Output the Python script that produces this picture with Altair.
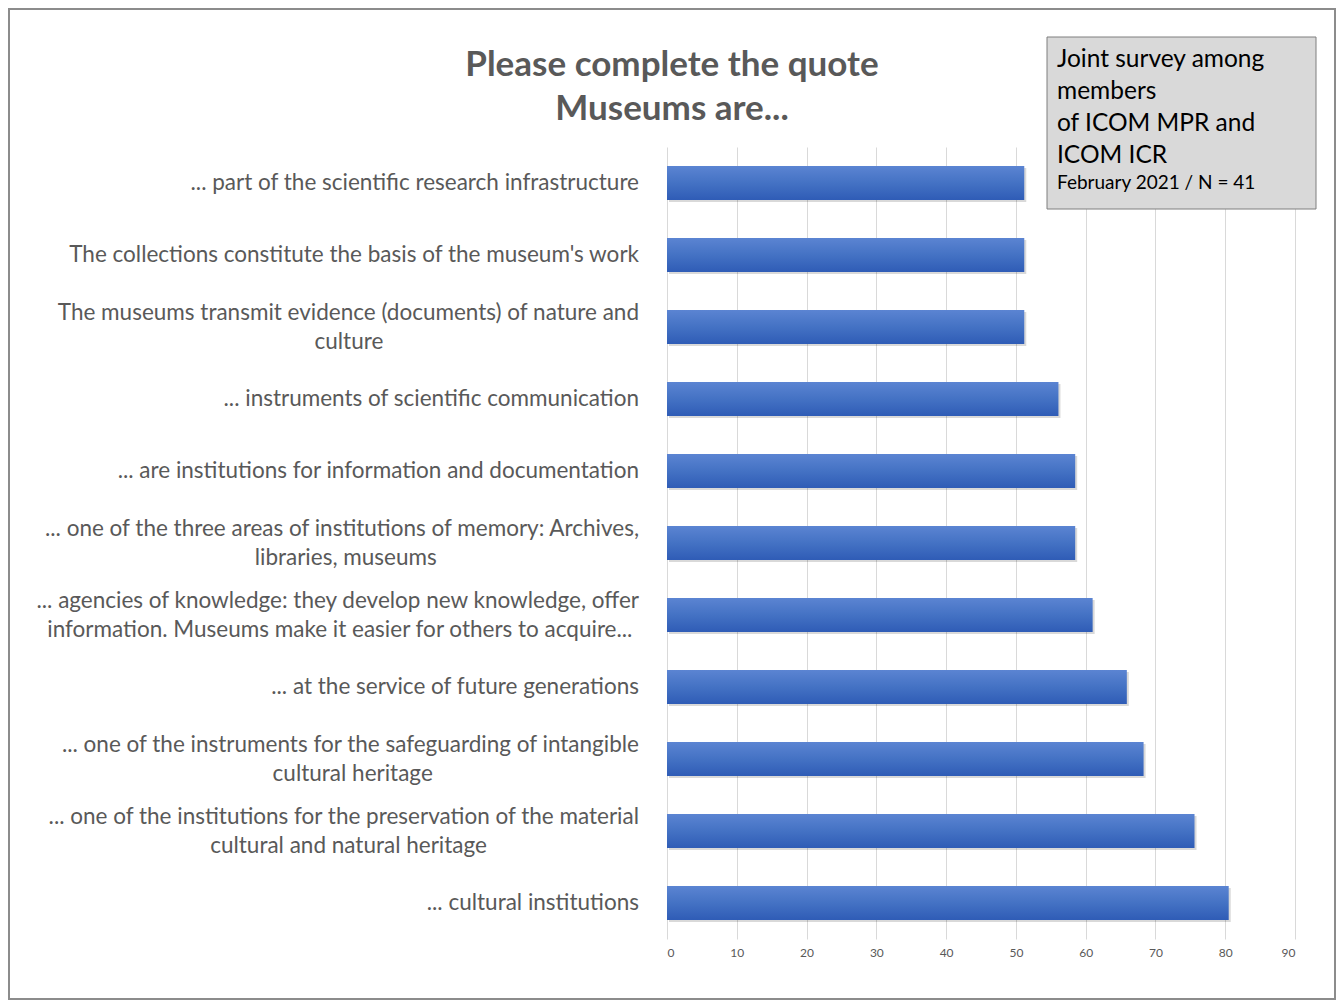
import altair as alt
import pandas as pd

# ---------------- data ----------------
labels = [
    "... part of the scientific research infrastructure",
    "The collections constitute the basis of the museum's work",
    "The museums transmit evidence (documents) of nature and\nculture",
    "... instruments of scientific communication",
    "... are institutions for information and documentation",
    "... one of the three areas of institutions of memory: Archives,\nlibraries, museums",
    "... agencies of knowledge: they develop new knowledge, offer\ninformation. Museums make it easier for others to acquire...",
    "... at the service of future generations",
    "... one of the instruments for the safeguarding of intangible\ncultural heritage",
    "... one of the institutions for the preservation of the material\ncultural and natural heritage",
    "... cultural institutions",
]
values = [51.2, 51.2, 51.2, 56.1, 58.5, 58.5, 61.0, 65.9, 68.3, 75.6, 80.5]
ticks = [0, 10, 20, 30, 40, 50, 60, 70, 80, 90]
title_lines = ["Please complete the quote", "Museums are..."]
note_lines = ["Joint survey among", "members", "of ICOM MPR and", "ICOM ICR"]
note_small = "February 2021 / N = 41"

# ---------------- layout ----------------
W, H = 628, 792
PAD_L, PAD_T = 659, 139
PAD_R = 1328 - PAD_L - W
PAD_B = 992 - PAD_T - H
FONT = "Lato"
LBL = 22.5
GREY = "#595959"
XMAX = 90
PX = W / XMAX
LABEL_GAP = 28
LINE_H = 29

# rough Lato advance widths (em)
CW = {" ": 0.26, ".": 0.23, ",": 0.23, ":": 0.23, "'": 0.2, "(": 0.3, ")": 0.3}
for ch in "abdeghnopqu":
    CW[ch] = 0.54
CW.update({"a": 0.49, "c": 0.46, "e": 0.51, "f": 0.31, "i": 0.23, "j": 0.23,
           "k": 0.48, "l": 0.23, "m": 0.81, "r": 0.35, "s": 0.41, "t": 0.33,
           "v": 0.49, "w": 0.74, "x": 0.47, "y": 0.49, "z": 0.44})


def est_width(s, size):
    return sum(CW.get(ch, 0.64) for ch in s) * size * 1.02


single_rows, first_rows, second_rows = [], [], []
for lab in labels:
    parts = lab.split("\n")
    if len(parts) == 1:
        single_rows.append({"cat": lab, "t": parts[0], "xp": -LABEL_GAP / PX})
    else:
        first_rows.append({"cat": lab, "t": parts[0], "xp": -LABEL_GAP / PX})
        c = -(LABEL_GAP + est_width(parts[0], LBL) / 2) / PX
        second_rows.append({"cat": lab, "t": parts[1], "xp": c})

df = pd.DataFrame({"cat": labels, "value": values})

xscale = alt.Scale(domain=[0, XMAX], nice=False, zero=True)
yscale = alt.Scale(paddingInner=0.53, paddingOuter=0.265)
ybase = alt.Y("cat:N", sort=labels, scale=yscale, axis=None)

xaxis = alt.Axis(values=ticks, grid=True, gridColor="#d9d9d9", gridWidth=1,
                 domain=False, ticks=False, labelFont=FONT, labelFontSize=12,
                 labelColor=GREY, labelPadding=8, title=None)

grad = alt.Gradient(
    gradient="linear",
    stops=[alt.GradientStop(color="#5b84d2", offset=0),
           alt.GradientStop(color="#4472c4", offset=0.5),
           alt.GradientStop(color="#2f5cb6", offset=1)],
    x1=0, x2=0, y1=0, y2=1,
)

shadow = alt.Chart(df).mark_bar(color="#000000", opacity=0.15, xOffset=2, x2Offset=2,
                                yOffset=2).encode(
    x=alt.X("value:Q", scale=xscale, axis=xaxis), y=ybase)
bars = alt.Chart(df).mark_bar(color=grad).encode(
    x=alt.X("value:Q", scale=xscale, axis=xaxis), y=ybase)


def label_layer(rows, align, dy):
    return alt.Chart(pd.DataFrame(rows)).mark_text(
        align=align, baseline="middle", font=FONT, fontSize=LBL, color=GREY, dy=dy
    ).encode(
        x=alt.X("xp:Q", scale=xscale, axis=xaxis),
        y=ybase,
        text="t:N",
    )


lab_single = label_layer(single_rows, "right", 0)
lab_first = label_layer(first_rows, "right", -LINE_H / 2)
lab_second = label_layer(second_rows, "center", LINE_H / 2)

# title
title = alt.Chart(pd.DataFrame({"t": ["\n".join(title_lines)]})).mark_text(
    align="center", baseline="alphabetic", font=FONT, fontSize=35, fontWeight="bold",
    color=GREY, lineBreak="\n", lineHeight=44,
).encode(text="t:N", x=alt.value(5), y=alt.value(-71))

# note box
box = alt.Chart(pd.DataFrame({"a": [0]})).mark_rect(
    fill="#d9d9d9", stroke="#7f7f7f", strokeWidth=1
).encode(x=alt.value(380), x2=alt.value(649), y=alt.value(-110), y2=alt.value(62))

note = alt.Chart(pd.DataFrame({"t": ["\n".join(note_lines)]})).mark_text(
    align="left", baseline="alphabetic", font=FONT, fontSize=24.5, color="#000000",
    lineBreak="\n", lineHeight=32,
).encode(text="t:N", x=alt.value(390), y=alt.value(-80))

note2 = alt.Chart(pd.DataFrame({"t": [note_small]})).mark_text(
    align="left", baseline="alphabetic", font=FONT, fontSize=19, color="#000000",
).encode(text="t:N", x=alt.value(390), y=alt.value(42))

frame = alt.Chart(pd.DataFrame({"a": [0]})).mark_rect(
    fillOpacity=0, stroke="#8c8c8c", strokeWidth=2
).encode(x=alt.value(-PAD_L + 1), x2=alt.value(W + PAD_R - 1),
         y=alt.value(-PAD_T + 1), y2=alt.value(H + PAD_B - 1))

chart = alt.layer(
    shadow, bars, lab_single, lab_first, lab_second, title, box, note, note2, frame
).properties(
    width=W, height=H,
    padding={"left": PAD_L, "top": PAD_T, "right": PAD_R, "bottom": PAD_B},
    autosize=alt.AutoSizeParams(type="none"),
    background="white",
).configure_view(stroke="transparent")

chart.save("out.html", embed_options={"renderer": "svg", "actions": False})
